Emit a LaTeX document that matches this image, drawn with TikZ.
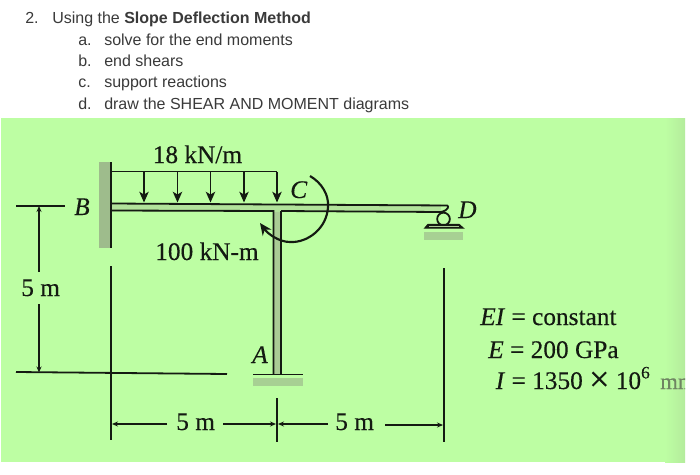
\documentclass[tikz,border=0pt]{standalone}
\usepackage{fontspec}
\setmainfont[FakeBold=0.25]{Liberation Serif}
\newfontfamily\arialfont{Liberation Sans}
\usetikzlibrary{arrows.meta}
\definecolor{bggreen}{HTML}{BDFEA3}
\definecolor{edgegreen}{HTML}{B4EC9C}
\definecolor{hatchgreen}{HTML}{9EBC8C}
\definecolor{colgreen}{HTML}{AACD95}
\definecolor{inkc}{HTML}{141A12}
\definecolor{headc}{HTML}{3A3A3A}
\tikzset{
 head/.style={anchor=base west,inner sep=0pt,font=\arialfont\fontsize{12}{14}\selectfont,text=headc},
 lab/.style={anchor=base west,inner sep=0pt,font=\fontsize{19}{22}\selectfont,text=inkc},
 ital/.style={lab,font=\itshape\fontsize{19}{22}\selectfont},
 ink/.style={draw=inkc,line width=1.35pt},
 thin ink/.style={draw=inkc,line width=1.05pt},
 load/.style={thin ink,-{Stealth[length=8pt,width=7pt,inset=2pt]}},
 dim/.style={thin ink,-{Stealth[length=4.5pt,width=3.8pt]}},
 hatchbox/.style={fill=hatchgreen,draw=none},
 basebox/.style={fill=hatchgreen!70!bggreen,draw=none,inner sep=0pt}
}
\begin{document}
\begin{tikzpicture}[x=.75pt,y=-.75pt]
\useasboundingbox (0,0) rectangle (700,475);
\fill[white] (0,0) rectangle (700,475);
\fill[bggreen] (1,118) rectangle (685,462);
\shade[left color=bggreen,right color=edgegreen,draw=none] (665,118) rectangle (685,462);

% heading
\node[head] (n2) at (25,23.5) {2.};
\node[head] (h0) at (52,23.5) {Using the \textbf{Slope Deflection Method}};
\node[head] (na) at (78,45) {a.};
\node[head] (ha) at (104,45) {solve for the end moments};
\node[head] (nb) at (78,66.5) {b.};
\node[head] (hb) at (104,66.5) {end shears};
\node[head] (nc) at (78,87.5) {c.};
\node[head] (hc) at (104,87.5) {support reactions};
\node[head] (nd) at (78,109) {d.};
\node[head] (hd) at (104,109) {draw the SHEAR AND MOMENT diagrams};

% coordinates of the frame
\coordinate (Bt) at (111,203.5);
\coordinate (Bb) at (111,210.5);
\coordinate (Dt) at (447,205.5);
\coordinate (Db) at (441,212);
\coordinate (Jl) at (273.5,211);
\coordinate (Jr) at (281,211);
\coordinate (Al) at (273.5,374);
\coordinate (Ar) at (281,374);

% fills
\fill[colgreen] (Jl) rectangle (Ar);
\fill[colgreen!55!bggreen] (Bt) rectangle (Db);
\node[hatchbox,inner sep=0pt,minimum height=64.5pt,minimum width=8.25pt] (wall) at (104.5,205) {};
\node[basebox,minimum width=37.5pt,minimum height=6pt] (baseA) at (278,382) {};
\node[basebox,minimum width=29.5pt,minimum height=6.5pt] (baseD) at (443.5,236) {};

% wall face and frame
\draw[ink] (111,162) -- (111,248);
\draw[ink] (Bt) -- (Dt) .. controls (449,206) and (449,210) .. (Db);
\draw[ink] (Bb) -- (Jl) -- (Al);
\draw[ink] (Jr) -- (Db);
\draw[ink] (Jr) -- (Ar);
\draw[ink] (253,374.5) -- (303,374.5);

% roller
\node[draw=inkc,line width=1.35pt,circle,minimum size=9.5pt,inner sep=0pt] (roller) at (443.5,219) {};
\draw[draw=inkc,line width=1pt,fill=inkc] (425,228) -- (428,224.5) -- (459,224.5) -- (463,228) -- cycle;
\fill[colgreen] (429,226) rectangle (459,227);

% load
\coordinate (Ls) at (111,171.5);
\coordinate (Le) at (277,171.5);
\draw[ink] (Ls) -- (Le);
\foreach \px in {144,177.5,210.5,244,277}{
  \draw[load] (\px,171.5) -- (\px,202.5);
}

% moment
\draw[line width=1.6pt,draw=inkc,-{Stealth[length=9pt,width=8pt]}]
 (310,176) .. controls (322,183) and (329,195) .. (328,207)
 .. controls (327,228) and (308,243) .. (290,242)
 .. controls (279,242) and (268,234) .. (260,223);

% labels
\node[lab] (load) at (152.5,163) {18 kN/m};
\node[lab] (mom) at (155,260) {100 kN-m};
\node[ital] (B) at (74,215) {B};
\node[ital] (C) at (290,198) {C};
\node[ital] (D) at (458,218) {D};
\node[ital] (A) at (252,363) {A};

% left dimension
\coordinate (T1) at (16,206);
\coordinate (T2) at (65,206);
\coordinate (T3) at (16,372);
\coordinate (T4) at (227,374);
\coordinate (U1) at (39,272);
\coordinate (U2) at (39,206);
\coordinate (U3) at (39,304);
\coordinate (U4) at (39,372.5);
\draw[ink] (T1) -- (T2);
\draw[ink] (T3) -- (T4);
\draw[dim] (U1) -- (U2);
\draw[dim] (U3) -- (U4);
\node[lab] (fivev) at (21,296) {5 m};

% bottom dimension
\coordinate (E1) at (111,266);
\coordinate (E2) at (111,440);
\coordinate (E3) at (277,398);
\coordinate (E4) at (277,442);
\coordinate (E5) at (444,268);
\coordinate (E6) at (444,442);
\draw[ink] (E1) -- (E2);
\draw[thin ink] (E3) -- (E4);
\draw[ink] (E5) -- (E6);
\node[lab] (fivea) at (176,430) {5 m};
\node[lab] (fiveb) at (335,430) {5 m};
\coordinate (F1) at (167,424);
\coordinate (F2) at (112,424);
\coordinate (F3) at (223,424);
\coordinate (F4) at (276,424);
\coordinate (F5) at (328,424);
\coordinate (F6) at (278,424);
\coordinate (F7) at (385,425);
\coordinate (F8) at (443,425);
\draw[dim] (F1) -- (F2);
\draw[dim] (F3) -- (F4);
\draw[dim] (F5) -- (F6);
\draw[dim] (F7) -- (F8);

% properties
\node[lab] (p1) at (480,325) {\textit{EI} = constant};
\node[lab] (p2) at (488,358) {\textit{E} = 200 GPa};
\node[lab] (p3) at (495.5,389) {\textit{I} = 1350 \raisebox{-.08em}{\fontsize{27}{27}\selectfont ×} 10\raisebox{.42em}{\fontsize{13}{13}\selectfont 6}};
\begin{scope}
\clip (1,118) rectangle (685,462);
\node[anchor=base west,inner sep=0pt,font=\fontsize{17}{20}\selectfont,text=hatchgreen!70!black] (p4) at (660,389) {mm};
\end{scope}
\end{tikzpicture}
\end{document}
